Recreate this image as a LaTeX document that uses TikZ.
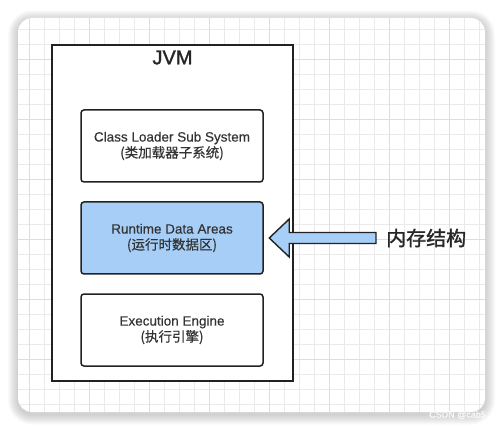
\documentclass[tikz,border=0pt]{standalone}
\usepackage{fontspec}
\setmainfont{Liberation Sans}[FakeBold=0.35]
\newfontfamily\cjk{Noto Sans CJK SC}[FakeBold=0.35]
\newfontfamily\heavy{Liberation Sans}[FakeBold=1.6]
\newfontfamily\cjkheavy{Noto Sans CJK SC}[FakeBold=1.4]
\usetikzlibrary{calc}
\definecolor{txt}{HTML}{333333}
\definecolor{edge}{HTML}{222222}
\definecolor{blue}{HTML}{A6CEF6}
\definecolor{gridminor}{HTML}{EAEAEA}
\definecolor{gridmajor}{HTML}{DDDDDD}
\tikzset{
  compbox/.style={draw=edge, line width=1.5pt, rounded corners=3pt, minimum width=182, minimum height=72, inner sep=0pt, align=center, text=txt, font=\fontsize{13.5}{16}\selectfont},
  hilite/.style={fill=blue},
  jvmbox/.style={draw=edge, line width=1.8pt, fill=white, minimum width=241, minimum height=336, inner sep=0pt},
  titletext/.style={text=black!85, inner sep=0pt},
  bigarrow/.style={draw=edge, line width=1.4pt, fill=blue, line join=miter},
}
\begin{document}
\begin{tikzpicture}[x=1pt,y=-1pt]
\useasboundingbox (0,0) rectangle (503,430);
% card shadow
\foreach \i in {1,...,10} {
  \fill[black, opacity=0.02, rounded corners={14+\i}] ({18-\i},{18-\i+2.5}) rectangle ({485+\i},{412+\i+2.5});
}
\fill[white, rounded corners=14] (18,18) rectangle (485,412);
% grid
\begin{scope}
  \clip[rounded corners=14] (18,18) rectangle (485,412);
  \foreach \k in {0,...,30} {
    \draw[gridminor, line width=0.9pt] ({29.5+15*\k},18) -- ({29.5+15*\k},412);
  }
  \foreach \k in {0,...,26} {
    \draw[gridminor, line width=0.9pt] (18,{29.5+15*\k}) -- (485,{29.5+15*\k});
  }
  \foreach \k in {0,...,7} {
    \draw[gridmajor, line width=1pt] ({29.5+60*\k},18) -- ({29.5+60*\k},412);
  }
  \foreach \k in {0,...,6} {
    \draw[gridmajor, line width=1pt] (18,{59.5+60*\k}) -- (485,{59.5+60*\k});
  }
\end{scope}
% JVM container
\node[jvmbox] (jvm) at (172.5,213) {};
\node[titletext, font=\heavy\fontsize{20}{24}\selectfont] (jvmlabel) at (172.5,57.5) {JVM};
% components
\node[compbox] (cls) at (172,146) {Class Loader Sub System\\{\cjk (类加载器子系统)}};
\node[compbox, hilite] (rda) at (172,238) {Runtime Data Areas\\{\cjk (运行时数据区)}};
\node[compbox] (exe) at (172,330) {Execution Engine\\{\cjk (执行引擎)}};
% memory structure label and arrow
\node[titletext, anchor=west, font=\cjkheavy\fontsize{20}{24}\selectfont] (mem) at (386,238) {内存结构};
\coordinate (tip) at ($(rda.east)+(5.5,0)$);
\coordinate (tail) at ($(mem.west)+(-10,0)$);
\draw[bigarrow] (tip) -- ($(tip)+(20,-19)$) -- ($(tip)+(20,-5.5)$) -- ($(tail)+(0,-5.5)$)
  -- ($(tail)+(0,5.5)$) -- ($(tip)+(20,5.5)$) -- ($(tip)+(20,19)$) -- cycle;
% watermark
\node[text=white, opacity=0.85, font=\fontsize{9}{10}\selectfont, anchor=west, inner sep=0pt] (wm) at (429,415) {CSDN @cab5};
\end{tikzpicture}
\end{document}
